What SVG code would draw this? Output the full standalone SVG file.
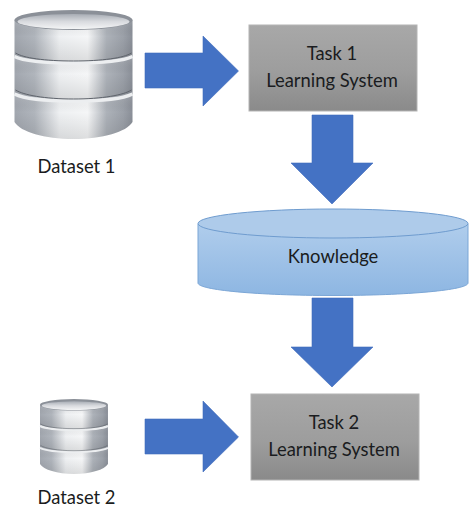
<svg xmlns="http://www.w3.org/2000/svg" xmlns:xlink="http://www.w3.org/1999/xlink" width="474" height="507" viewBox="0 0 474 507">
<style>
.t{font-family:Lato,"Liberation Sans",sans-serif;font-size:18.4px;fill:#1a1c20;text-anchor:middle}
.a{fill:#4472c4;stroke:#3f6cbc;stroke-width:.6}
.b{fill:url(#gray);stroke:#b4b4b4;stroke-width:1}
.ring{fill:none;stroke:#5f646c;stroke-width:1}
.lip{fill:none;stroke:#eceef0;stroke-width:3.500}
</style>
<defs>
<linearGradient id="metal" x1="0" x2="1" y1="0" y2="0">
<stop offset="0" stop-color="#a2a7af"/><stop offset=".17" stop-color="#b0b5bc"/><stop offset=".38" stop-color="#eef0f2"/><stop offset=".62" stop-color="#f5f6f7"/><stop offset=".78" stop-color="#adb2b9"/><stop offset=".92" stop-color="#9ca1a9"/><stop offset="1" stop-color="#8a8f98"/>
</linearGradient>
<linearGradient id="shade" x1="0" x2="0" y1="0" y2="1">
<stop offset="0" stop-color="#fff" stop-opacity=".12"/><stop offset=".4" stop-color="#000" stop-opacity="0"/><stop offset="1" stop-color="#000" stop-opacity=".1"/>
</linearGradient>
<linearGradient id="topf" x1="0" x2="0" y1="0" y2="1">
<stop offset="0" stop-color="#a8adb5"/><stop offset=".5" stop-color="#d8dade"/><stop offset="1" stop-color="#f4f5f6"/>
</linearGradient>
<linearGradient id="gray" x1="0" x2="0" y1="0" y2="1">
<stop offset="0" stop-color="#a8a8a8"/><stop offset=".55" stop-color="#9d9d9d"/><stop offset="1" stop-color="#8a8a8a"/>
</linearGradient>
<linearGradient id="blue" x1="0" x2="0" y1="0" y2="1">
<stop offset="0" stop-color="#b0cdec"/><stop offset="1" stop-color="#8db6e2"/>
</linearGradient>
<g id="db">
<path d="M0 10V112C6 122 30 129 59 129S112 122 118 112V10Z" fill="url(#metal)"/>
<path d="M0 10V45C8 49 30 51 59 51S110 49 118 45V10Z" fill="url(#shade)"/>
<path d="M0 47V82C8 86 30 89 59 89S110 86 118 82V47C110 51 88 54 59 54S8 51 0 47Z" fill="url(#shade)"/>
<path d="M0 84V112C6 122 30 129 59 129S112 122 118 112V84C110 88 88 92 59 92S8 88 0 84Z" fill="url(#shade)"/>
<path class="lip" d="M0 46.500C8 50.500 30 53 59 53S110 50.500 118 46.500"/>
<path class="lip" d="M0 84C8 88 30 91 59 91S110 88 118 84"/>
<path class="ring" d="M1 43C9 48 30 51 59 51S109 48 117 43"/>
<path class="ring" d="M1 80C9 85 30 89 59 89S109 85 117 80"/>
<ellipse cx="59" cy="10" rx="59" ry="10" fill="#8b9098"/>
<ellipse cx="59" cy="11.500" rx="56" ry="7.500" fill="url(#topf)"/>
</g>
</defs>
<rect width="474" height="507" fill="#fff"/>
<g id="connectors">
<path class="a" d="M145 53H203V36L238.500 71 203 106V88H145Z"/>
<path class="a" d="M312 115H353V163H373L332 204 291 163H312Z"/>
<path class="a" d="M312 298H353V347H373L332 387 291 347H312Z"/>
<path class="a" d="M145 419H203V401L238.500 437 203 472V454H145Z"/>
</g>
<g id="dataset1">
<use xlink:href="#db" href="#db" transform="translate(14.500 10)"/>
<text class="t" x="76.500" y="172.500">Dataset 1</text>
</g>
<g id="task1">
<rect class="b" x="249" y="25" width="168" height="86"/>
<text class="t" x="332" y="60">Task 1</text>
<text class="t" x="332" y="87">Learning System</text>
</g>
<g id="knowledge">
<path d="M198 224V283C198 290 258 295.500 333 295.500S468 290 468 283V224Z" fill="url(#blue)" stroke="#7ba6d6" stroke-width="1"/>
<ellipse cx="333" cy="223.500" rx="135" ry="14.500" fill="#aecbea" stroke="#6f9ccf" stroke-width="1"/>
<text class="t" x="333" y="263">Knowledge</text>
</g>
<g id="dataset2">
<use xlink:href="#db" href="#db" transform="translate(40 399) scale(.576 .581)"/>
<text class="t" x="76.500" y="504">Dataset 2</text>
</g>
<g id="task2">
<rect class="b" x="251" y="394" width="168" height="86"/>
<text class="t" x="334" y="429">Task 2</text>
<text class="t" x="334" y="456">Learning System</text>
</g>
</svg>
